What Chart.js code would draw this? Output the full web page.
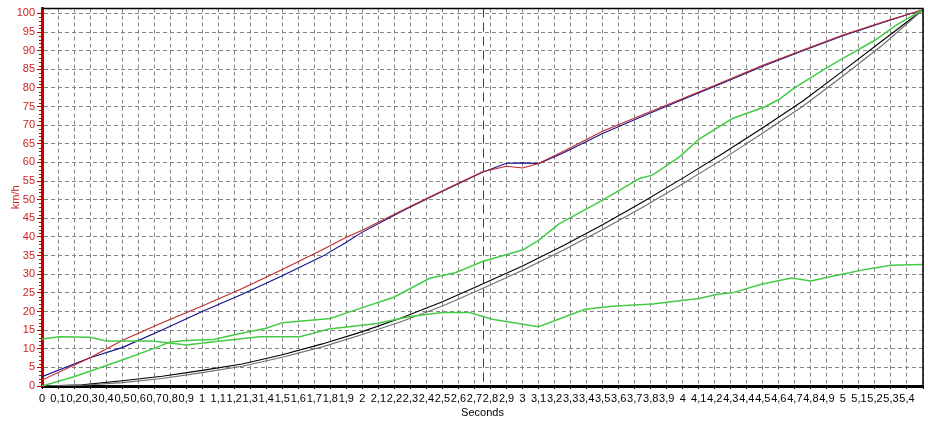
<!DOCTYPE html>
<html>
<head>
<meta charset="utf-8">
<title>km/h vs Seconds</title>
<script src="https://cdn.jsdelivr.net/npm/chart.js@4.4.1/dist/chart.umd.min.js"></script>
<style>
    html, body { margin: 0; padding: 0; background: #fff; }
    #speedChart { display: block; }
</style>
</head>
<body>
<canvas id="speedChart" width="928" height="423"></canvas>
<script>
    "use strict";

    // run data (seconds / km/h)
    var timeRB = [0, 0.3, 0.5, 0.75, 1.0, 1.25, 1.5, 1.75, 1.9, 2.0, 2.25, 2.5, 2.75, 2.9, 3.0, 3.1, 3.25, 3.5, 3.75, 4.0, 4.25, 4.5, 4.75, 5.0, 5.25, 5.5];
    var redRun = [1.6, 7.6, 12.2, 17.0, 21.5, 26.2, 31.3, 36.6, 39.9, 41.8, 47.2, 52.4, 57.5, 59.0, 58.5, 59.7, 62.9, 68.4, 72.8, 77.2, 81.6, 86.1, 90.2, 94.2, 97.7, 101];
    var blueRun = [2.5, 7.6, 10.3, 15.0, 20.0, 24.6, 29.6, 34.8, 38.6, 41.3, 47.0, 52.3, 57.4, 59.8, 59.9, 59.7, 62.5, 67.8, 72.4, 76.9, 81.3, 85.8, 90.0, 94.0, 97.6, 101];

    var timeGreenA = [0, 0.2, 0.5, 0.7, 0.8, 0.9, 1.07, 1.23, 1.4, 1.5, 1.8, 1.92, 2.2, 2.42, 2.58, 2.75, 3.0, 3.1, 3.23, 3.5, 3.73, 3.81, 3.98, 4.1, 4.31, 4.51, 4.6, 4.7, 4.89, 5.03, 5.2, 5.33, 5.5];
    var greenA = [0, 2.5, 7.0, 10.1, 11.8, 12.2, 12.5, 14.0, 15.5, 17.0, 18.1, 19.9, 23.9, 28.9, 30.4, 33.4, 36.5, 39.1, 43.6, 49.9, 55.7, 56.6, 61.5, 66.2, 71.8, 74.9, 76.9, 80.1, 85.2, 88.7, 92.8, 96.8, 101];

    var timeGreenB = [0, 0.11, 0.3, 0.4, 0.69, 0.9, 1.03, 1.23, 1.36, 1.61, 1.79, 2.09, 2.29, 2.5, 2.67, 2.81, 3.1, 3.39, 3.56, 3.81, 4.1, 4.22, 4.31, 4.49, 4.68, 4.8, 4.97, 5.14, 5.3, 5.5];
    var greenB = [12.6, 13.2, 13.1, 12.1, 12.1, 11.0, 11.7, 12.6, 13.2, 13.2, 15.3, 16.8, 18.6, 19.7, 19.7, 17.9, 15.9, 20.6, 21.4, 22.0, 23.5, 24.6, 25.0, 27.3, 29.0, 28.2, 29.8, 31.3, 32.4, 32.6];

    var timeRef = [0, 0.25, 0.5, 0.75, 1.0, 1.25, 1.5, 1.75, 2.0, 2.25, 2.5, 2.75, 3.0, 3.25, 3.5, 3.75, 4.0, 4.25, 4.5, 4.75, 5.0, 5.25, 5.5];
    var blackRef = [0, 0.3, 1.4, 2.6, 4.2, 5.9, 8.4, 11.3, 14.6, 18.4, 22.6, 27.4, 32.2, 37.6, 43.3, 49.4, 55.8, 62.4, 69.3, 76.5, 84.6, 92.8, 101];
    var grayRef = [0, 0.2, 0.9, 2.0, 3.6, 5.3, 7.7, 10.5, 13.8, 17.4, 21.5, 26.2, 31.1, 36.4, 42.0, 48.0, 54.3, 60.9, 67.9, 75.1, 83.2, 91.6, 101];

    var markerSec = 2.75;

    // tick positions
    var yTicks = [0, 5, 10, 15, 20, 25, 30, 35, 40, 45, 50, 55, 60, 65, 70, 75, 80, 85, 90, 95, 100];
    var xTicks = [];
    for (var i = 0; i <= 55; i++) {
        xTicks.push(i / 10);
    }

    var toPoints = function (xs, ys) {
        return ys.map(function (v, k) {
            return { x: xs[k], y: v };
        });
    };

    var lineSet = function (label, xs, ys, color, width) {
        return {
            label: label,
            data: toPoints(xs, ys),
            borderColor: color,
            borderWidth: width,
            pointRadius: 0,
            tension: 0,
            fill: false
        };
    };

    /* marker line, minor ticks, frame
  -------------------------------------------------------------------------------------*/
    var chartDecor = {
        id: "chartDecor",
        beforeDatasetsDraw: function (chart) {
            var ctx = chart.ctx;
            var area = chart.chartArea;
            var px = Math.round(chart.scales.x.getPixelForValue(markerSec)) + 0.5;
            ctx.save();
            ctx.strokeStyle = "#9a1818";
            ctx.lineWidth = 1;
            ctx.setLineDash([9, 5]);
            ctx.beginPath();
            ctx.moveTo(px, area.top);
            ctx.lineTo(px, area.bottom);
            ctx.stroke();
            ctx.restore();
        },
        afterDraw: function (chart) {
            var ctx = chart.ctx;
            var area = chart.chartArea;
            var y = chart.scales.y;
            ctx.save();
            ctx.strokeStyle = "#c00000";
            ctx.lineWidth = 1;
            ctx.beginPath();
            for (var v = 1; v < 101; v++) {
                if (v % 5 === 0) continue;
                var py = Math.round(y.getPixelForValue(v)) + 0.5;
                ctx.moveTo(area.left - 3, py);
                ctx.lineTo(area.left, py);
            }
            ctx.stroke();
            ctx.strokeStyle = "#000";
            ctx.lineWidth = 1.5;
            ctx.beginPath();
            ctx.moveTo(area.left, area.top);
            ctx.lineTo(area.right, area.top);
            ctx.lineTo(area.right, area.bottom);
            ctx.stroke();
            ctx.restore();
        }
    };

    var ctx = document.getElementById("speedChart").getContext("2d");
    var speedChart = new Chart(ctx, {
        type: "line",
        data: {
            datasets: [
                lineSet("green 1", timeGreenA, greenA, "#44cc44", 1.5),
                lineSet("green 2", timeGreenB, greenB, "#44cc44", 1.5),
                lineSet("gray", timeRef, grayRef, "#6e6e6e", 1.1),
                lineSet("black", timeRef, blackRef, "#000000", 1.1),
                lineSet("red", timeRB, redRun, "#c02828", 1.1),
                lineSet("blue", timeRB, blueRun, "#10108a", 1.1)
            ]
        },
        options: {
            responsive: false,
            animation: false,
            layout: { padding: { top: 8, right: 5, left: 0, bottom: 0 } },
            plugins: {
                legend: { display: false },
                tooltip: { enabled: false }
            },
            scales: {
                x: {
                    type: "linear",
                    min: 0,
                    max: 5.5,
                    afterBuildTicks: function (scale) {
                        scale.ticks = xTicks.map(function (v) { return { value: v }; });
                    },
                    afterFit: function (scale) {
                        scale.height = 37;
                    },
                    ticks: {
                        autoSkip: false,
                        maxRotation: 0,
                        minRotation: 0,
                        padding: 3,
                        color: "#000",
                        font: { family: "Liberation Sans", size: 11 },
                        callback: function (value) {
                            if (value >= 5.5) return "";
                            var r = Math.round(value * 10) / 10;
                            return String(r).replace(".", ",");
                        }
                    },
                    grid: {
                        color: "#858585",
                        lineWidth: 1,
                        tickLength: 3,
                        tickColor: "#000"
                    },
                    border: { color: "#000", width: 3, dash: [4, 3] },
                    title: {
                        display: true,
                        text: "Seconds",
                        color: "#000",
                        font: { family: "Liberation Sans", size: 11 },
                        padding: { top: 0, bottom: 3 }
                    }
                },
                y: {
                    min: 0,
                    max: 101.3,
                    afterBuildTicks: function (scale) {
                        scale.ticks = yTicks.map(function (v) { return { value: v }; });
                    },
                    afterFit: function (scale) {
                        scale.width = 42;
                    },
                    ticks: {
                        padding: 2,
                        color: "#cc2020",
                        font: { family: "Liberation Sans", size: 11 }
                    },
                    grid: {
                        color: "#858585",
                        lineWidth: 1,
                        tickLength: 5,
                        tickColor: "#c00000"
                    },
                    border: { color: "#c00000", width: 3, dash: [4, 3] },
                    title: {
                        display: true,
                        text: "km/h",
                        color: "#cc2020",
                        font: { family: "Liberation Sans", size: 11 },
                        padding: { top: 9, bottom: 0 }
                    }
                }
            }
        },
        plugins: [chartDecor]
    });
</script>
</body>
</html>
